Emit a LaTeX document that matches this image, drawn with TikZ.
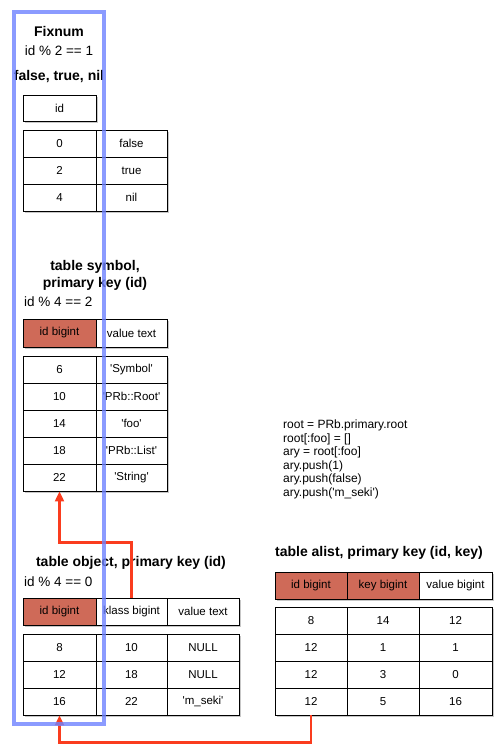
\documentclass[tikz,border=0pt]{standalone}
\usepackage{fontspec}
\setmainfont{Liberation Sans}[Ligatures=TeXOff]
\usetikzlibrary{arrows.meta}
\definecolor{keyred}{RGB}{207,106,88}
\definecolor{arrred}{RGB}{250,60,30}
\definecolor{fixblue}{RGB}{110,130,255}
\tikzset{
  cell/.style={draw=black, line width=0.9pt, inner sep=0pt, font=\fontsize{11.5}{13}\selectfont, fill=white},
  keycell/.style={cell, fill=keyred},
  shadowbox/.style={fill=black!22},
  ttl/.style={font=\fontsize{14}{17}\selectfont\bfseries, inner sep=0pt, align=center},
  sub/.style={font=\fontsize{13.5}{15}\selectfont, inner sep=0pt},
  link/.style={draw=arrred, line width=2.2pt, -{Triangle[width=9pt,length=10pt]}},
  fixnum/.style={draw=fixblue, line width=4.5pt, opacity=0.8}
}
% #1 options, #2 name, #3 x1, #4 y1, #5 x2, #6 y2, #7 text
\newcommand\tcell[7][]{%
  \node[cell,#1,minimum width={(#5-#3)*1pt},minimum height={(#6-#4)*1pt}] (#2) at ({(#3+#5)/2},{(#4+#6)/2}) {#7};}
\newcommand\tshadow[4]{\fill[shadowbox] ({#1+2},{#2+2}) rectangle ({#3+2},{#4+2});}
\begin{document}
\begin{tikzpicture}[x=1pt,y=-1pt]
\useasboundingbox (0,0) rectangle (498,752);

% ---------- Fixnum ----------
\node[ttl] (fxt) at (59,31) {Fixnum};
\node[sub] (fxs) at (59,51) {id \% 2 == 1};
\node[ttl] (fxv) at (59,77) {false, true, nil};
\tshadow{23}{95}{96}{121}
\tcell{f-h1}{23}{95}{96}{121}{id}
\tshadow{23}{130}{167}{211}
\tcell{f-r1c1}{23}{130}{96}{157}{0}
\tcell{f-r1c2}{96}{130}{167}{157}{false}
\tcell{f-r2c1}{23}{157}{96}{184}{2}
\tcell{f-r2c2}{96}{157}{167}{184}{true}
\tcell{f-r3c1}{23}{184}{96}{211}{4}
\tcell{f-r3c2}{96}{184}{167}{211}{nil}

% ---------- symbol ----------
\node[ttl] (st) at (95,275.5) {table symbol,\\primary key (id)};
\node[sub, anchor=west] (ss) at (24,302) {id \% 4 == 2};
\tshadow{23}{319}{167}{347}
\tcell[keycell]{s-h1}{23}{319}{96}{347}{id bigint}
\tcell{s-h2}{96}{319}{167}{347}{value text}
\tshadow{23}{356}{167}{491}
\tcell{s-r1c1}{23}{356}{96}{383}{6}
\tcell{s-r1c2}{96}{356}{167}{383}{'Symbol'}
\tcell{s-r2c1}{23}{383}{96}{410}{10}
\tcell{s-r2c2}{96}{383}{167}{410}{'PRb::Root'}
\tcell{s-r3c1}{23}{410}{96}{437}{14}
\tcell{s-r3c2}{96}{410}{167}{437}{'foo'}
\tcell{s-r4c1}{23}{437}{96}{464}{18}
\tcell{s-r4c2}{96}{437}{167}{464}{'PRb::List'}
\tcell{s-r5c1}{23}{464}{96}{491}{22}
\tcell{s-r5c2}{96}{464}{167}{491}{'String'}

% ---------- code ----------
\node[anchor=north west, inner sep=0pt, align=left, font=\fontsize{12}{13.5}\selectfont] (code) at (283,420)
  {root = PRb.primary.root\\root[:foo] = []\\ary = root[:foo]\\ary.push(1)\\ary.push(false)\\ary.push('m\_seki')};

% ---------- object ----------
\node[ttl] (ot) at (131,563) {table object, primary key (id)};
\node[sub, anchor=west] (os) at (24,582) {id \% 4 == 0};
\tshadow{23}{598}{239}{625}
\tcell[keycell]{o-h1}{23}{598}{96}{625}{id bigint}
\tcell{o-h2}{96}{598}{167}{625}{klass bigint}
\tcell{o-h3}{167}{598}{239}{625}{value text}
\tshadow{23}{634}{239}{715}
\tcell{o-r1c1}{23}{634}{96}{661}{8}
\tcell{o-r1c2}{96}{634}{167}{661}{10}
\tcell{o-r1c3}{167}{634}{239}{661}{NULL}
\tcell{o-r2c1}{23}{661}{96}{688}{12}
\tcell{o-r2c2}{96}{661}{167}{688}{18}
\tcell{o-r2c3}{167}{661}{239}{688}{NULL}
\tcell{o-r3c1}{23}{688}{96}{715}{16}
\tcell{o-r3c2}{96}{688}{167}{715}{22}
\tcell{o-r3c3}{167}{688}{239}{715}{'m\_seki'}

% ---------- alist ----------
\node[ttl] (at) at (379,553) {table alist, primary key (id, key)};
\tshadow{275}{572}{492}{599}
\tcell[keycell]{a-h1}{275}{572}{347}{599}{id bigint}
\tcell[keycell]{a-h2}{347}{572}{419}{599}{key bigint}
\tcell{a-h3}{419}{572}{492}{599}{value bigint}
\tshadow{275}{607}{492}{715}
\tcell{a-r1c1}{275}{607}{347}{634}{8}
\tcell{a-r1c2}{347}{607}{419}{634}{14}
\tcell{a-r1c3}{419}{607}{492}{634}{12}
\tcell{a-r2c1}{275}{634}{347}{661}{12}
\tcell{a-r2c2}{347}{634}{419}{661}{1}
\tcell{a-r2c3}{419}{634}{492}{661}{1}
\tcell{a-r3c1}{275}{661}{347}{688}{12}
\tcell{a-r3c2}{347}{661}{419}{688}{3}
\tcell{a-r3c3}{419}{661}{492}{688}{0}
\tcell{a-r4c1}{275}{688}{347}{715}{12}
\tcell{a-r4c2}{347}{688}{419}{715}{5}
\tcell{a-r4c3}{419}{688}{492}{715}{16}

% ---------- links ----------
\draw[link] (o-h2.north) -- ++(0,-55) -| (s-r5c1.south);
\draw[link] (a-r4c1.south) -- ++(0,27) -| (o-r3c1.south);

% ---------- Fixnum band ----------
\draw[fixnum] (14,12) rectangle (104,724);
\end{tikzpicture}
\end{document}
